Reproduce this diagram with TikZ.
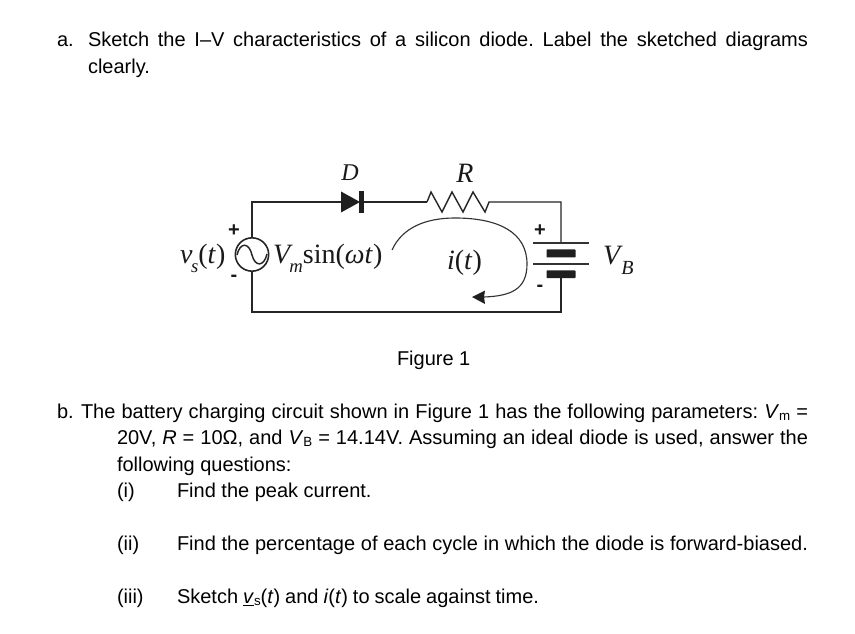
\documentclass[tikz,border=0pt]{standalone}
\usepackage{fontspec}
\setmainfont{Liberation Sans}
\newfontfamily\cktfont{Liberation Serif}
\frenchspacing
\newcommand{\subs}[1]{\raisebox{-0.12em}{\fontsize{10pt}{12pt}\selectfont #1}}
\newcommand{\just}[2]{\makebox[\dimexpr #1pt*3/4\relax][s]{#2}}
\newcommand{\cktsub}[1]{\raisebox{-6.75pt}{\fontsize{14pt}{15pt}\selectfont\textit{#1}}}
\tikzset{
  x=0.75pt,y=-0.75pt,
  txt/.style={anchor=base west,inner sep=0pt,outer sep=0pt,font=\fontsize{15pt}{18pt}\selectfont,text=black},
  ckt/.style={inner sep=0pt,outer sep=0pt,font=\cktfont\fontsize{21pt}{24pt}\selectfont,text=black!90},
  sgn/.style={inner sep=0pt,outer sep=0pt,font=\bfseries\fontsize{15pt}{16pt}\selectfont,text=black!90},
  wire/.style={draw=black!85,line width=1.05pt,line join=miter},
  thinw/.style={draw=black!80,line width=0.9pt},
  filled/.style={fill=black!88,draw=none}
}
\begin{document}
\begin{tikzpicture}
\useasboundingbox[fill=white] (0,0) rectangle (855,634);
% text
\node[txt] (a1) at (57,47) {a.};
\node[txt] (a2) at (88,47) {\just{720}{Sketch the I–V characteristics of a silicon diode. Label the sketched diagrams}};
\node[txt] (a3) at (88,74) {clearly.};
\node[txt] (fig) at (397,365) {Figure 1};
\node[txt] (b0) at (57,418) {b.};
\node[txt] (b1) at (81,418) {\just{727}{The battery charging circuit shown in Figure 1 has the following parameters: \textit{V}\subs{m} =}};
\node[txt] (b2) at (117,444.5) {\just{691}{20V, \textit{R} = 10Ω, and \textit{V}\subs{B} = 14.14V. Assuming an ideal diode is used, answer the}};
\node[txt] (b3) at (117,471) {following questions:};
\node[txt] (i1) at (117,497) {(i)};
\node[txt] (i2) at (177,497) {Find the peak current.};
\node[txt] (ii1) at (117,550) {(ii)};
\node[txt] (ii2) at (177,550) {\just{631}{Find the percentage of each cycle in which the diode is forward-biased.}};
\node[txt] (iii1) at (117,603) {(iii)};
\node[txt] (iii2) at (177,603) {\just{362}{Sketch \underline{\textit{v}}\subs{s}(\textit{t}) and \textit{i}(\textit{t}) to scale against time.}};
% circuit anchors
\coordinate (tl) at (252,202);
\coordinate (tr) at (561,202);
\coordinate (bl) at (252,312);
\coordinate (br) at (561,312);
\coordinate (dl) at (341,202);
\coordinate (dr) at (364,202);
\coordinate (rl) at (427,202);
\coordinate (rr) at (489,202);
\node[circle,draw=black!85,line width=1.2pt,minimum size=25pt,inner sep=0pt] (src) at (252,254.5) {};
% wires
\draw[wire] (src.north) -- (tl) -- (dl);
\draw[wire] (dr) -- (rl);
\draw[wire] (rl) -- (431,192) -- (442,212) -- (452,192) -- (463,212) -- (473,192) -- (485,212) -- (rr) -- (tr) -- (561,243);
\draw[wire] (src.south) -- (bl) -- (br) -- (561,274);
% source sine
\draw[draw=black!85,line width=1.1pt] (237,255) .. controls (240,242) and (249,242) .. (252,255) .. controls (255,267) and (264,267) .. (267,254);
% diode
\path[filled] (341,191.5) -- (360,202) -- (341,212.5) -- cycle;
\path[filled] (359,191) rectangle (364,213);
% battery
\draw[thinw] (533,243) -- (589,243);
\draw[thinw] (533,264) -- (589,264);
\path[filled,rounded corners=0.5pt] (546.5,249.5) rectangle (575.5,257.5);
\path[filled,rounded corners=0.5pt] (546.5,270.5) rectangle (575.5,278);
% current loop
\draw[draw=black!80,line width=0.85pt] (392,250) .. controls (402,228) and (425,218) .. (455,218) .. controls (498,218) and (527,232) .. (527,264) .. controls (527,290) and (510,296) .. (484,297);
\path[filled] (472,297) -- (485,290.5) -- (484,297) -- (485,304) -- cycle;
% circuit labels
\node[ckt,font=\cktfont\fontsize{18pt}{20pt}\selectfont] (lD) at (350,173) {\textit{D}};
\node[ckt] (lR) at (465,173.5) {\textit{R}};
\node[ckt,anchor=base west] (lvs) at (180,263) {\textit{v}\kern-1pt\cktsub{s}(\textit{t})};
\node[ckt,anchor=base west] (lv) at (273,263) {\textit{V}\kern-2.5pt\cktsub{m}sin(\textit{ωt})};
\node[ckt,anchor=base] (li) at (464.5,270) {\textit{i}(\textit{t})};
\node[ckt,anchor=base west] (lvb) at (603,265) {\textit{V}\kern-1pt\raisebox{-7.5pt}{\fontsize{15pt}{16pt}\selectfont\textit{B}}};
\node[sgn] (p1) at (234,231) {+};
\node[sgn] (m1) at (234,278) {-};
\node[sgn] (p2) at (540,231) {+};
\node[sgn] (m2) at (540,288) {-};
\end{tikzpicture}
\end{document}
